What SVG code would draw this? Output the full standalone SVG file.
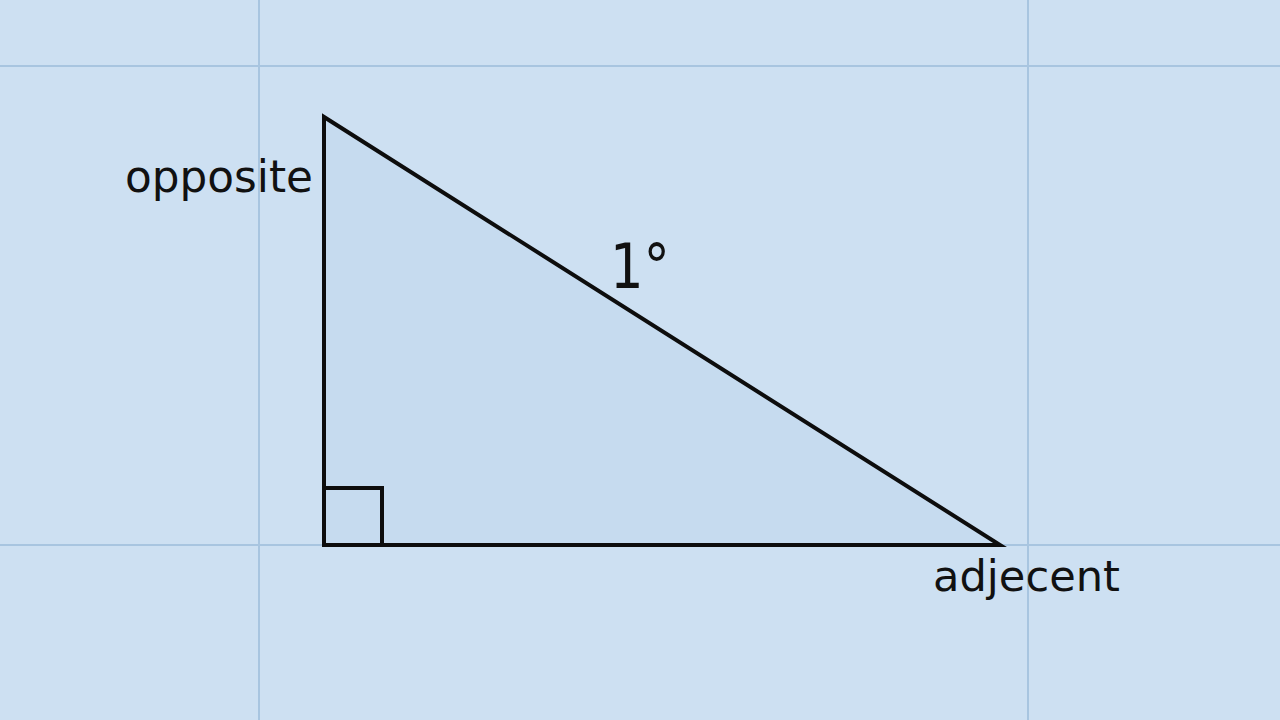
<svg xmlns="http://www.w3.org/2000/svg" width="1280" height="720" viewBox="0 0 1280 720">
<style>
.grid{stroke:#a8c5e0;stroke-width:2}
.shape{fill:#c6dbef;stroke:#0d0d0d;stroke-width:4;stroke-linejoin:miter}
.lbl{font-family:"DejaVu Sans","Noto Sans",sans-serif;fill:#111}
</style>
<rect width="1280" height="720" fill="#cde0f2"/>
<g id="grid">
<line class="grid" x1="259" y1="0" x2="259" y2="720"/>
<line class="grid" x1="1028" y1="0" x2="1028" y2="720"/>
<line class="grid" x1="0" y1="66" x2="1280" y2="66"/>
<line class="grid" x1="0" y1="545" x2="1280" y2="545"/>
</g>
<g id="triangle">
<polygon class="shape" points="324,117 324,545 1000,545"/>
<rect x="324" y="488" width="58" height="57" fill="none" stroke="#0d0d0d" stroke-width="4"/>
</g>
<g id="labels">
<text class="lbl" x="125" y="192" font-size="45" textLength="188" lengthAdjust="spacingAndGlyphs">opposite</text>
<text class="lbl" x="610" y="288" font-size="62" textLength="60" lengthAdjust="spacingAndGlyphs">1°</text>
<text class="lbl" x="933" y="591" font-size="43" textLength="187" lengthAdjust="spacingAndGlyphs">adjecent</text>
</g>
</svg>
